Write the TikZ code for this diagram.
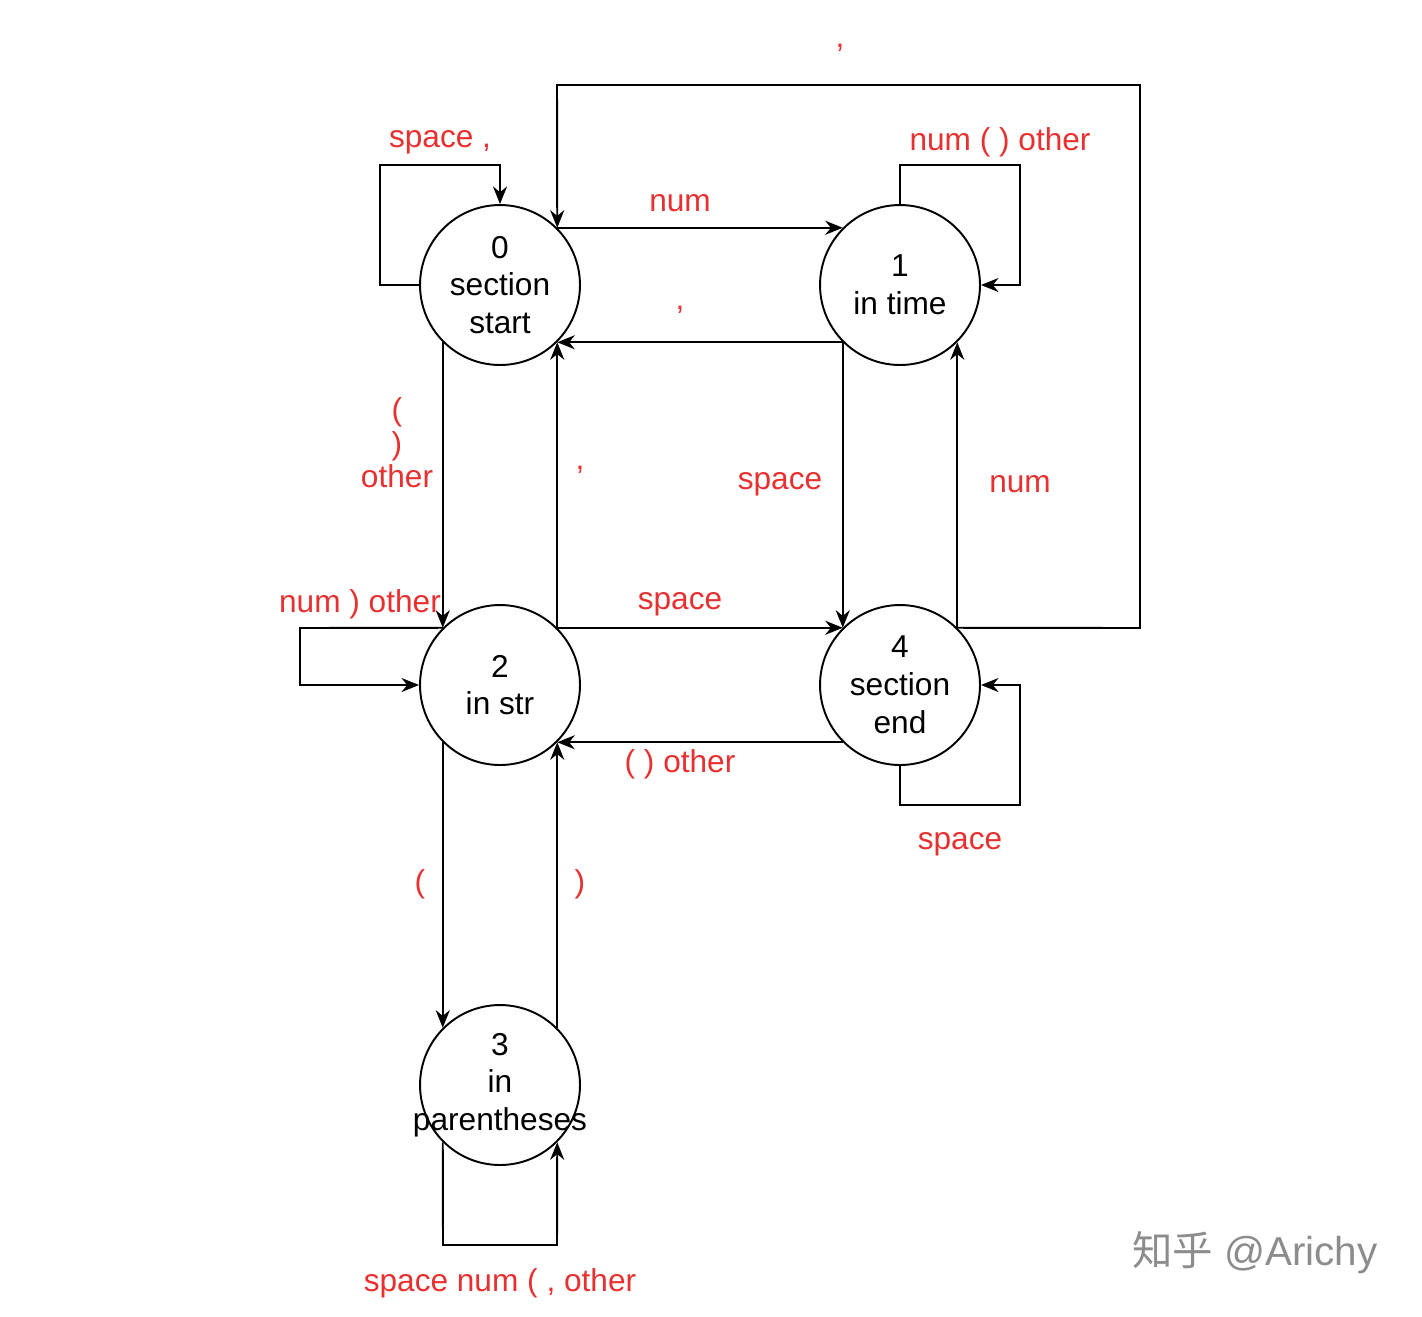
\documentclass[tikz,border=0pt]{standalone}
\usepackage{fontspec}
\setmainfont{Liberation Sans}
\newfontfamily\cjk{Noto Sans CJK SC}
\usetikzlibrary{arrows.meta}
\definecolor{lblred}{RGB}{232,48,48}
\begin{document}
\begin{tikzpicture}[x=0.02cm,y=-0.02cm,
  st/.style={circle,draw,line width=1.1pt,minimum size=3.2cm,inner sep=0pt,align=center,font=\fontsize{18}{21.5}\selectfont},
  edge/.style={line width=1.1pt,-{Stealth[length=10pt,width=8pt]}},
  lbl/.style={text=lblred,font=\fontsize{18}{21}\selectfont,inner sep=1pt}]
\useasboundingbox (0,0) rectangle (1422,1316);
\node[st] (s0) at (500,285) {0\\section\\start};
\node[st] (s1) at (900,285) {1\\in time};
\node[st] (s2) at (500,685) {2\\in str};
\node[st] (s4) at (900,685) {4\\section\\end};
\node[st] (s3) at (500,1085) {};
\node[align=center,font=\fontsize{18}{21.5}\selectfont,inner sep=0pt] (t3) at (s3.center) {3\\in\\parentheses};
% loops
\draw[edge] (s0.west) -- (380,285) -- (380,165) -- (500,165) -- (s0.north);
\draw[edge] (s1.north) -- (900,165) -- (1020,165) -- (1020,285) -- (s1.east);
\draw[edge] (s4.south) -- (900,805) -- (1020,805) -- (1020,685) -- (s4.east);
\draw[edge] (s2.135) -- (300,628) -- (300,685) -- (s2.west);
\draw[edge] (s3.-135) -- (443,1245) -- (557,1245) -- (s3.-45);
% straight
\draw[edge] (s0.45) -- (s1.135);
\draw[edge] (s1.-135) -- (s0.-45);
\draw[edge] (s0.-135) -- (s2.135);
\draw[edge] (s2.45) -- (s0.-45);
\draw[edge] (s1.-135) -- (s4.135);
\draw[edge] (s4.45) -- (s1.-45);
\draw[edge] (s2.45) -- (s4.135);
\draw[edge] (s4.-135) -- (s2.-45);
\draw[edge] (s2.-135) -- (s3.135);
\draw[edge] (s3.45) -- (s2.-45);
\draw[edge] (s4.45) -- (1140,628) -- (1140,85) -- (557,85) -- (s0.45);
% labels
\node[lbl] (l1) at (440,142) {space ,};
\node[lbl] (l2) at (1000,142) {num ( ) other};
\node[lbl] (l3) at (680,203) {num};
\node[lbl] (l4) at (680,310) {,};
\node[lbl] (l5) at (840,48) {,};
\node[lbl,align=center] (l6) at (397,443) {(\\[-2pt])\\[-2pt]other};
\node[lbl] (l7) at (580,470) {,};
\node[lbl] (l8) at (780,484) {space};
\node[lbl] (l9) at (1020,484) {num};
\node[lbl] (l10) at (680,604) {space};
\node[lbl] (l11) at (360,604) {num ) other};
\node[lbl] (l12) at (680,764) {( ) other};
\node[lbl] (l13) at (960,844) {space};
\node[lbl] (l14) at (420,884) {(};
\node[lbl] (l15) at (580,884) {)};
\node[lbl] (l16) at (500,1283) {space num ( , other};
\node[text=black!45,font=\fontsize{23}{26}\selectfont] (wm) at (1255,1253) {{\cjk 知乎} @Arichy};
\end{tikzpicture}
\end{document}
